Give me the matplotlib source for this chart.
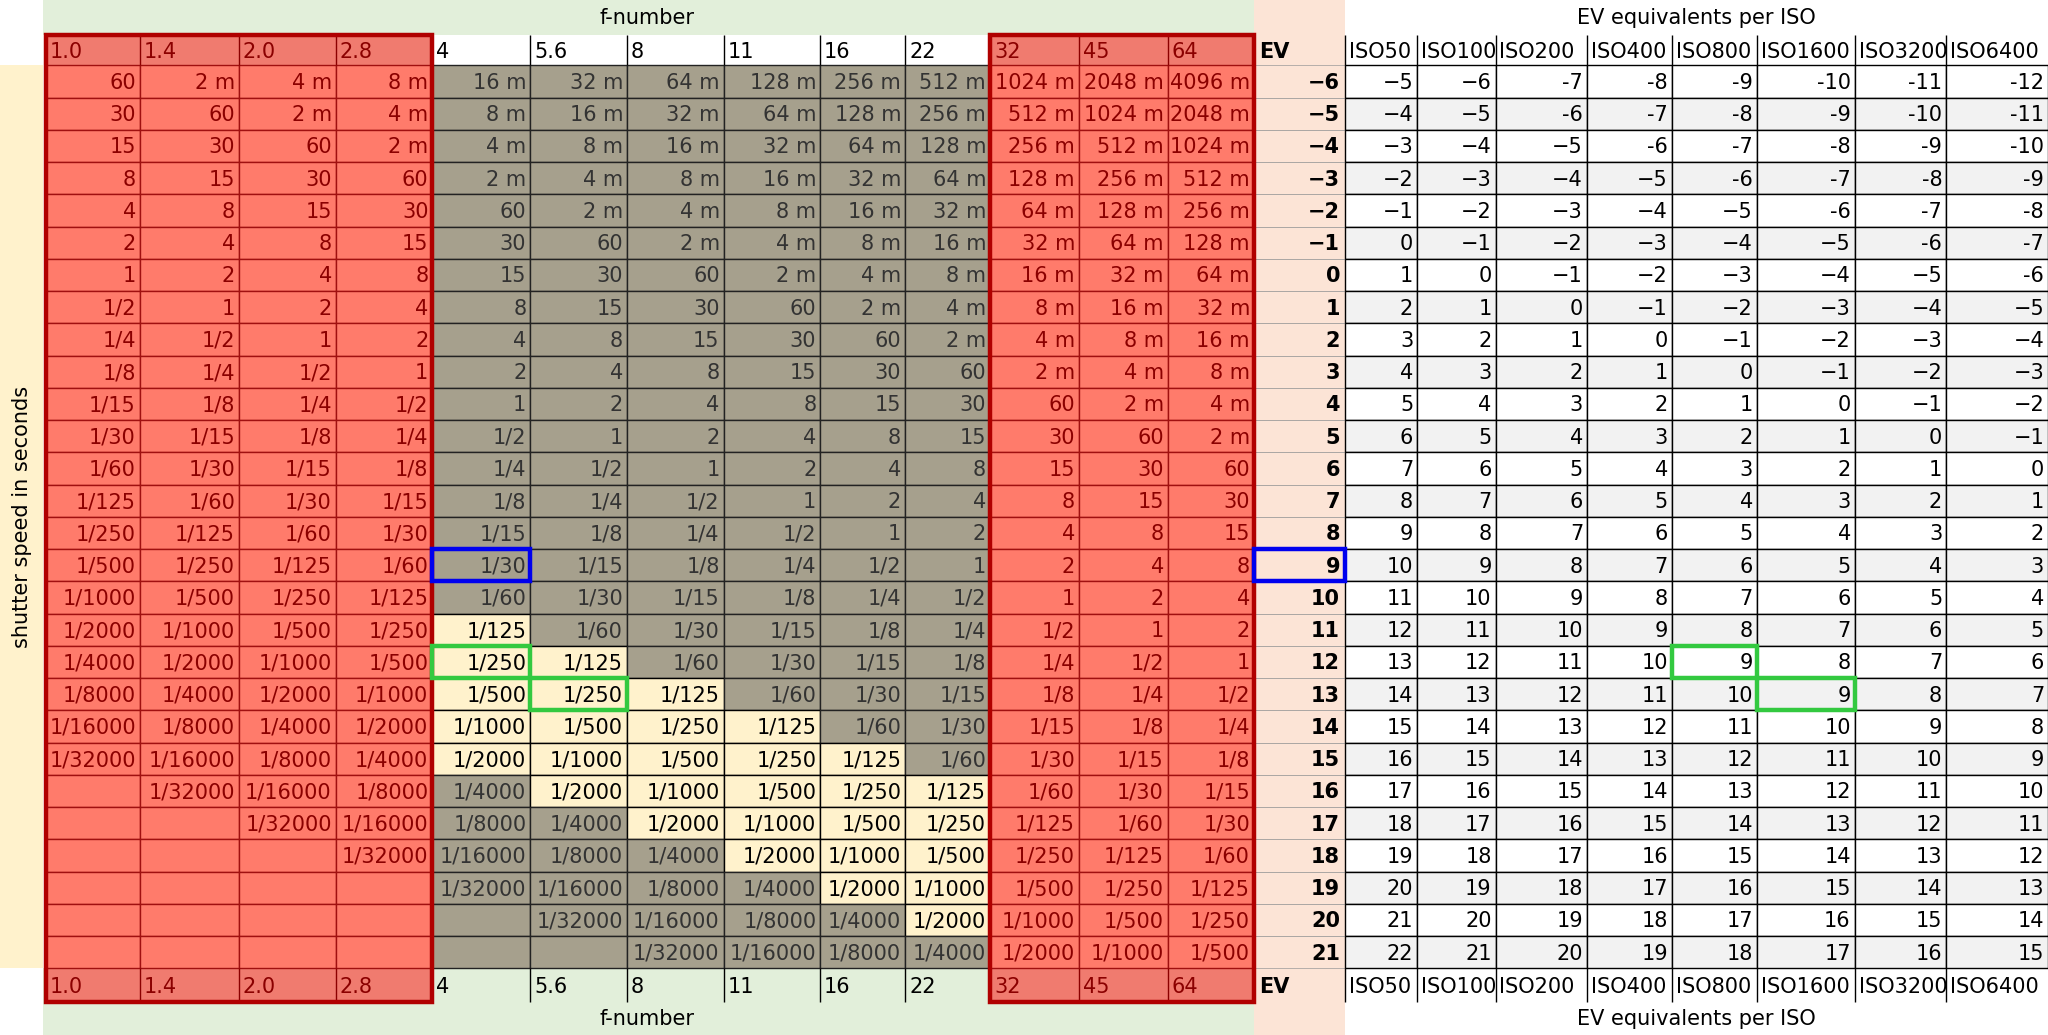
import matplotlib
matplotlib.use("Agg")
import matplotlib.pyplot as plt
from matplotlib.patches import Rectangle

plt.rcParams['font.family'] = ['Liberation Sans Narrow', 'DejaVu Sans']

# ---------------- data ----------------
f_numbers = ["1.0", "1.4", "2.0", "2.8", "4", "5.6", "8", "11", "16", "22", "32", "45", "64"]
ev_values = list(range(-6, 22))
iso_labels = ["ISO50", "ISO100", "ISO200", "ISO400", "ISO800", "ISO1600", "ISO3200", "ISO6400"]
iso_offsets = [1, 0, -1, -2, -3, -4, -5, -6]
shutter_labels = ["4096 m", "2048 m", "1024 m", "512 m", "256 m", "128 m", "64 m", "32 m",
                  "16 m", "8 m", "4 m", "2 m", "60", "30", "15", "8", "4", "2", "1",
                  "1/2", "1/4", "1/8", "1/15", "1/30", "1/60", "1/125", "1/250", "1/500",
                  "1/1000", "1/2000", "1/4000", "1/8000", "1/16000", "1/32000"]
red_cols = [0, 1, 2, 3, 10, 11, 12]
handheld = ["1/125", "1/250", "1/500", "1/1000", "1/2000"]
blue_boxes = [("f", 4, 9), ("ev", None, 9)]
green_boxes = [("f", 4, 12), ("f", 5, 13), ("iso", 4, 12), ("iso", 5, 13)]

# ---------------- layout (display units) ----------------
W, H = 1568, 792
col_edges = [35, 107, 183, 257, 331, 406, 480, 554, 628, 693, 758, 826, 894, 960]
ev_edge = (960, 1030)
iso_edges = [1030, 1085, 1145, 1215, 1280, 1345, 1420, 1490, 1568]
y_top_label = (0, 27)
y_head = (27, 50)
y_data0, y_data1 = 50, 741
nrows = len(ev_values)
rh = (y_data1 - y_data0) / nrows
y_foot = (741, 767)
y_bot_label = (767, 792)

RED = "#FF7B6B"; RED_H = "#F07B6F"; RED_TXT = "#8B0000"
GREY = "#A6A08D"; YEL = "#FFF2CC"; GREEN_BG = "#E2EFDA"; PINK = "#FCE4D6"
FS = 15

fig = plt.figure(figsize=(20.48, 10.35), dpi=100)
ax = fig.add_axes([0, 0, 1, 1])
ax.set_xlim(0, W); ax.set_ylim(H, 0); ax.axis("off")

def rect(x0, y0, x1, y1, fc, ec="none", lw=0, z=1):
    ax.add_patch(Rectangle((x0, y0), x1 - x0, y1 - y0, facecolor=fc, edgecolor=ec, linewidth=lw, zorder=z))

def line(x0, y0, x1, y1, c="black", lw=1.0, z=3):
    ax.plot([x0, x1], [y0, y1], color=c, lw=lw, zorder=z, solid_capstyle="butt")

# backgrounds
rect(33, 0, 960, 27, GREEN_BG)
rect(33, 741, 960, 792, GREEN_BG)
rect(960, 0, 1030, 792, PINK)
rect(0, y_data0, 33, y_data1, YEL)
ax.text(17, (y_data0 + y_data1) / 2, "shutter speed in seconds", rotation=90, ha="center", va="center", fontsize=FS)
ax.text(495, 14, "f-number", ha="center", va="center", fontsize=FS)
ax.text(495, 780, "f-number", ha="center", va="center", fontsize=FS)
ax.text(1299, 14, "EV equivalents per ISO", ha="center", va="center", fontsize=FS)
ax.text(1299, 780, "EV equivalents per ISO", ha="center", va="center", fontsize=FS)

# header/footer rows of f-numbers
for yh in (y_head, y_foot):
    for j, fn in enumerate(f_numbers):
        x0, x1 = col_edges[j], col_edges[j + 1]
        if j in red_cols:
            rect(x0, yh[0], x1, yh[1], RED_H)
            tc = RED_TXT
        else:
            tc = "black"
        ax.text(x0 + 3, (yh[0] + yh[1]) / 2 + 1, fn, ha="left", va="center", fontsize=FS, color=tc, zorder=4)
        line(x0, yh[0], x0, yh[1], c=RED_TXT if j in red_cols else "black")
    ax.text(ev_edge[0] + 4, (yh[0] + yh[1]) / 2 + 1, "EV", ha="left", va="center", fontsize=FS, fontweight="bold")
    for k, lab in enumerate(iso_labels):
        x0 = iso_edges[k]
        ax.text(x0 + 3, (yh[0] + yh[1]) / 2 + 1, lab, ha="left", va="center", fontsize=FS)
        line(x0, yh[0], x0, yh[1])

# data rows
for r, ev in enumerate(ev_values):
    y0 = y_data0 + r * rh; y1 = y0 + rh; yc = (y0 + y1) / 2 + 1
    for j in range(len(f_numbers)):
        x0, x1 = col_edges[j], col_edges[j + 1]
        idx = 18 - (j - ev)
        lab = shutter_labels[idx] if 0 <= idx < len(shutter_labels) else ""
        if j in red_cols:
            fc, tc, ec = RED, RED_TXT, "#A01010"
        elif lab in handheld:
            fc, tc, ec = YEL, "black", "black"
        else:
            fc, tc, ec = GREY, "#333333", "#222222"
        rect(x0, y0, x1, y1, fc, ec=ec, lw=1.0, z=1)
        if lab:
            ax.text(x1 - 3, yc, lab, ha="right", va="center", fontsize=FS, color=tc, zorder=4)
    # EV column
    rect(ev_edge[0], y0, ev_edge[1], y1, PINK, ec="#999999", lw=0.5)
    evs = str(ev).replace("-", "\u2212")
    ax.text(ev_edge[1] - 4, yc, evs, ha="right", va="center", fontsize=FS, fontweight="bold", zorder=4)
    # ISO columns
    bg = "white" if r % 2 == 0 else "#F2F2F2"
    for k, off in enumerate(iso_offsets):
        x0, x1 = iso_edges[k], iso_edges[k + 1]
        rect(x0, y0, x1, y1, bg, ec="black", lw=1.0)
        v = ev + off
        s = str(v)
        if v < 0 and (v >= -5 or k <= 1):
            s = s.replace("-", "\u2212")
        ax.text(x1 - 3, yc, s, ha="right", va="center", fontsize=FS, zorder=4)

# thick red borders around red blocks
for a, b in ((0, 4), (10, 13)):
    ax.add_patch(Rectangle((col_edges[a], y_head[0]), col_edges[b] - col_edges[a], y_foot[1] - y_head[0],
                           facecolor="none", edgecolor="#B00000", linewidth=3.2, zorder=6))

def box(kind, c, ev, color):
    r = ev_values.index(ev)
    y0 = y_data0 + r * rh
    if kind == "f":
        x0, x1 = col_edges[c], col_edges[c + 1]
    elif kind == "ev":
        x0, x1 = ev_edge
    else:
        x0, x1 = iso_edges[c], iso_edges[c + 1]
    ax.add_patch(Rectangle((x0, y0), x1 - x0, rh, facecolor="none", edgecolor=color, linewidth=3.2, zorder=7))

for kind, c, ev in blue_boxes:
    box(kind, c, ev, "#0000EE")
for kind, c, ev in green_boxes:
    box(kind, c, ev, "#33C940")

fig.savefig("out.png", dpi=100)
